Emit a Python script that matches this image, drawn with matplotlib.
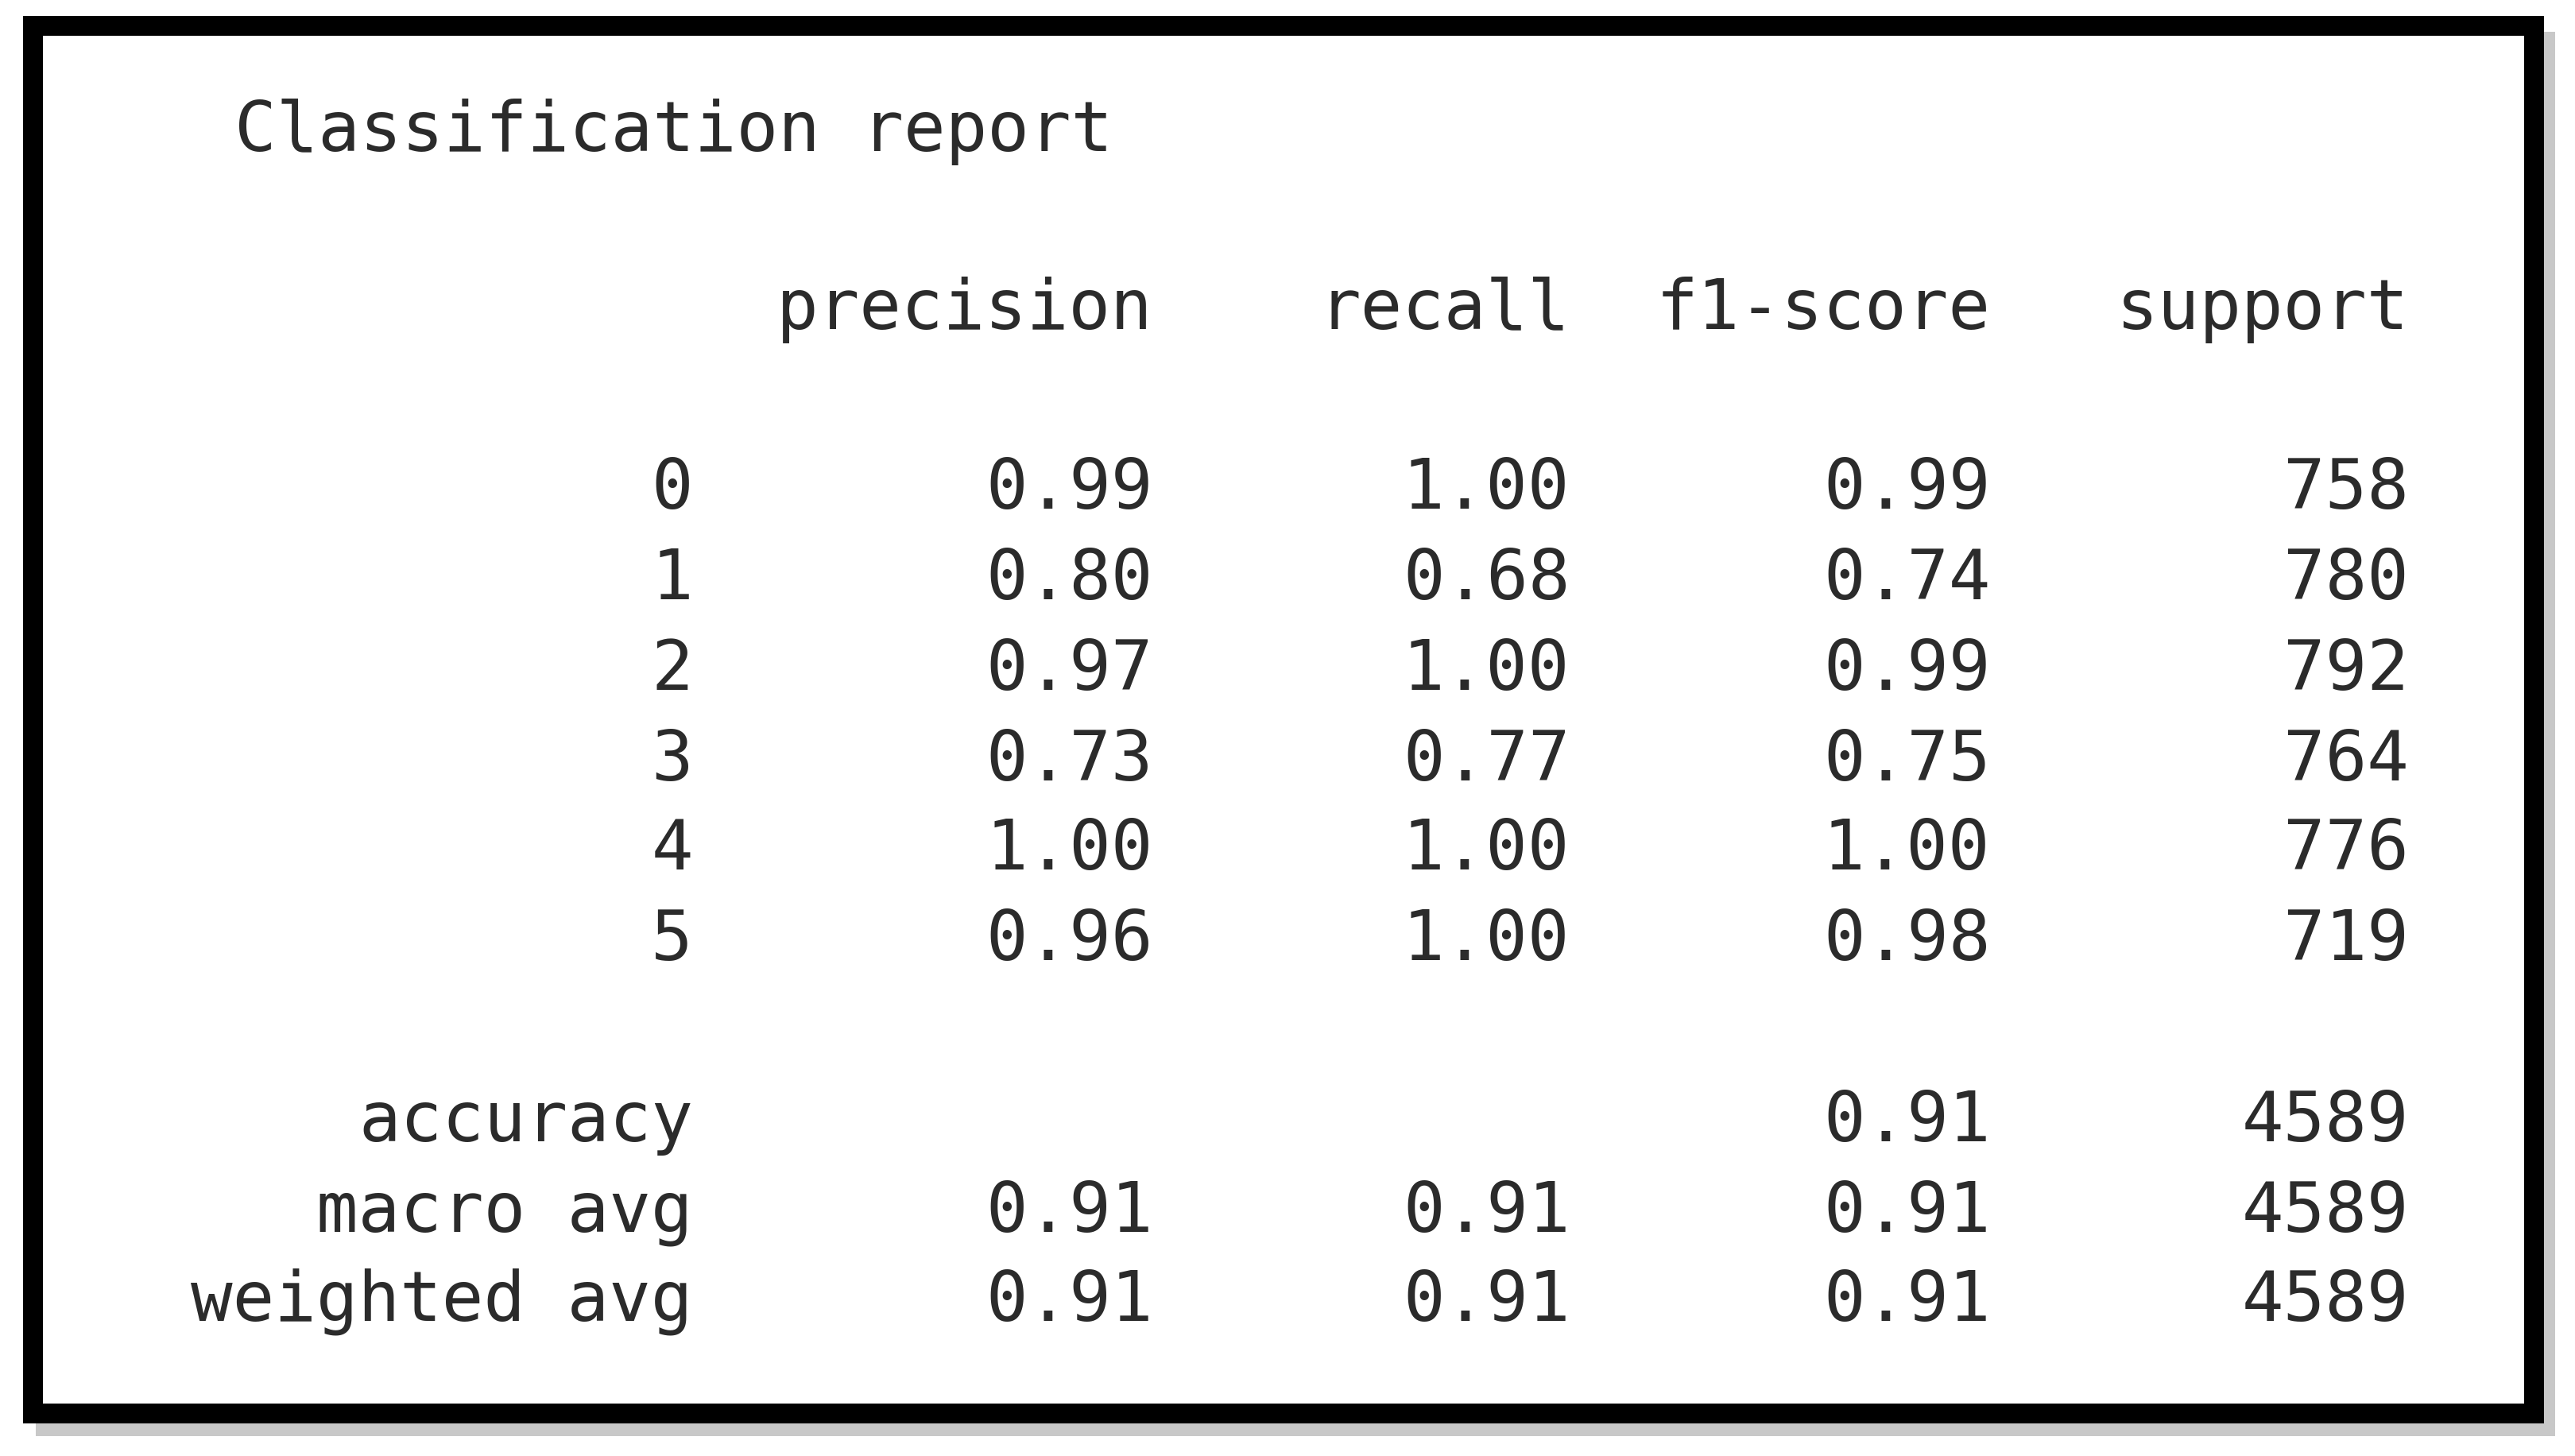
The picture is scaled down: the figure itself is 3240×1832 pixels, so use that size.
import matplotlib.pyplot as plt
from matplotlib.patches import Rectangle

# report values
title = "Classification report"
headers = ["precision", "recall", "f1-score", "support"]
class_labels = ["0", "1", "2", "3", "4", "5"]
precision = ["0.99", "0.80", "0.97", "0.73", "1.00", "0.96"]
recall = ["1.00", "0.68", "1.00", "0.77", "1.00", "1.00"]
f1_score = ["0.99", "0.74", "0.99", "0.75", "1.00", "0.98"]
support = ["758", "780", "792", "764", "776", "719"]
summary_labels = ["accuracy", "macro avg", "weighted avg"]
summary_precision = ["", "0.91", "0.91"]
summary_recall = ["", "0.91", "0.91"]
summary_f1 = ["0.91", "0.91", "0.91"]
summary_support = ["4589", "4589", "4589"]

W, H = 1568, 884  # reference layout units
fig = plt.figure(figsize=(32.4, 18.33), dpi=100)
fig.patch.set_facecolor("white")

def fx(x):
    return x / W

def fy(y):
    return 1 - y / H

# shadow + frame
fig.patches.append(Rectangle((fx(22), fy(872)), fx(1534) - fx(0), fy(20) - fy(872) + 0,
                             transform=fig.transFigure, facecolor="#c8c8c8", edgecolor="none", zorder=0))
fig.patches.append(Rectangle((fx(20), fy(858)), fx(1523), fy(16) - fy(858),
                             transform=fig.transFigure, facecolor="white", edgecolor="black",
                             linewidth=18, zorder=1))

kw = dict(family="DejaVu Sans Mono", fontsize=63, color="#2b2b2b", va="center", zorder=3)
col_x = [702, 956, 1212, 1467]
label_x = 422

fig.text(fx(143), fy(80), title, ha="left", **kw)
for x, h in zip(col_x, headers):
    fig.text(fx(x), fy(188), h, ha="right", **kw)

row_y = [297, 352, 407, 462, 516, 571]
for i, y in enumerate(row_y):
    vals = [precision[i], recall[i], f1_score[i], support[i]]
    fig.text(fx(label_x), fy(y), class_labels[i], ha="right", **kw)
    for x, v in zip(col_x, vals):
        fig.text(fx(x), fy(y), v, ha="right", **kw)

sum_y = [681, 736, 790]
for i, y in enumerate(sum_y):
    vals = [summary_precision[i], summary_recall[i], summary_f1[i], summary_support[i]]
    fig.text(fx(label_x), fy(y), summary_labels[i], ha="right", **kw)
    for x, v in zip(col_x, vals):
        if v:
            fig.text(fx(x), fy(y), v, ha="right", **kw)

fig.savefig("out.png", dpi=100, facecolor="white")
